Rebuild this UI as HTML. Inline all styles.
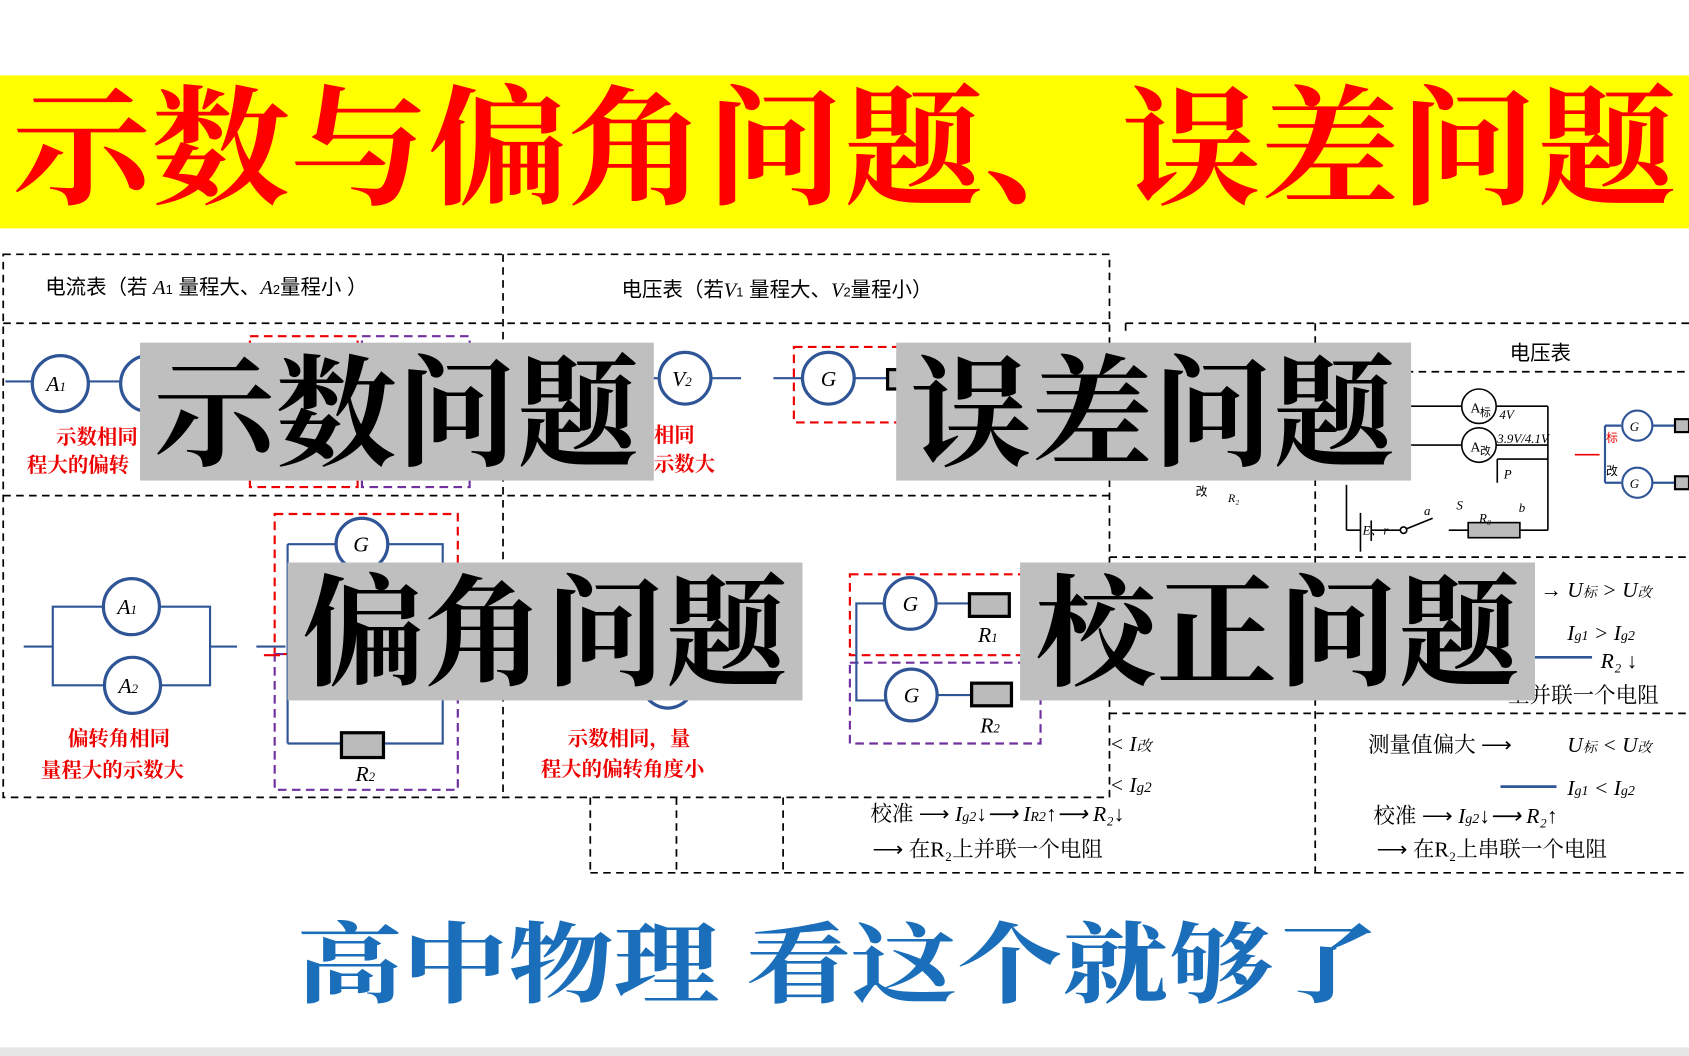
<!DOCTYPE html>
<html><head><meta charset="utf-8"><style>
html,body{margin:0;padding:0;background:#fff;width:1689px;height:1056px;overflow:hidden}
svg{display:block}
text{font-family:"Liberation Serif","Noto Serif CJK SC",serif}
.cj{font-family:"Liberation Sans","Noto Sans CJK SC",sans-serif}
.big{font-family:"Liberation Serif","Noto Serif CJK SC",serif;font-weight:700}
</style></head><body>
<svg width="1689" height="1056" viewBox="0 0 1568 980" preserveAspectRatio="none" xmlns="http://www.w3.org/2000/svg">
<rect width="1568" height="980" fill="#fff"/>
<rect x="0" y="70" width="1568" height="142" fill="#ffff00"/>
<text x="784" y="180" text-anchor="middle" class="big" font-size="120" fill="#ff0000" textLength="1545" lengthAdjust="spacingAndGlyphs">示数与偏角问题、误差问题</text>

<!-- right background table -->
<g stroke="#000" stroke-width="1.6" stroke-dasharray="7,5" fill="none">
<line x1="1045" y1="300" x2="1568" y2="300"/>
<line x1="1221" y1="345" x2="1568" y2="345"/>
<line x1="1221" y1="300" x2="1221" y2="810"/>
<line x1="1030" y1="517" x2="1568" y2="517"/>
<line x1="1030" y1="662" x2="1568" y2="662"/>
<line x1="548" y1="810" x2="1568" y2="810"/>
<line x1="548" y1="740" x2="548" y2="810"/>
<line x1="628" y1="740" x2="628" y2="810"/>
<line x1="727" y1="740" x2="727" y2="810"/>
<line x1="1045" y1="300" x2="1045" y2="310"/>
</g>
<text x="1430" y="334" text-anchor="middle" class="cj" font-size="19" fill="#000">电压表</text>
<g stroke="#000" stroke-width="1.5" fill="none">
<line x1="1310" y1="377" x2="1358" y2="377"/><circle cx="1373" cy="377" r="16" fill="#fff"/>
<line x1="1389" y1="377" x2="1437" y2="377"/>
<line x1="1310" y1="413" x2="1358" y2="413"/><circle cx="1373" cy="413" r="16" fill="#fff"/>
<line x1="1389" y1="413" x2="1437" y2="413"/>
<line x1="1437" y1="377" x2="1437" y2="492"/>
<line x1="1437" y1="426" x2="1390" y2="426"/><line x1="1390" y1="426" x2="1390" y2="448"/>
<line x1="1250" y1="450" x2="1250" y2="492"/><line x1="1250" y1="492" x2="1263" y2="492"/>
<line x1="1263" y1="476" x2="1263" y2="512"/><line x1="1273" y1="483" x2="1273" y2="502"/>
<line x1="1273" y1="492" x2="1300" y2="492"/><circle cx="1303" cy="492" r="3"/>
<line x1="1305" y1="491" x2="1330" y2="481"/>
<line x1="1345" y1="492" x2="1363" y2="492"/>
<rect x="1363" y="485" width="48" height="14" fill="#bbb"/>
<line x1="1411" y1="492" x2="1437" y2="492"/>
</g>
<text x="1365" y="383" font-size="13">A</text><text x="1374" y="386" class="cj" font-size="10">标</text>
<text x="1365" y="419" font-size="13">A</text><text x="1374" y="422" class="cj" font-size="10">改</text>
<text x="1392" y="389" font-size="12" font-style="italic">4V</text>
<text x="1390" y="411" font-size="12" font-style="italic">3.9V/4.1V</text>
<text x="1396" y="444" font-size="12" font-style="italic">P</text>
<text x="1352" y="473" font-size="12" font-style="italic">S</text>
<text x="1322" y="478" font-size="12" font-style="italic">a</text>
<text x="1410" y="475" font-size="12" font-style="italic">b</text>
<text x="1373" y="485" font-size="12" font-style="italic">R₀</text>
<text x="1265" y="496" font-size="12" font-style="italic">E、r</text>
<text x="1110" y="460" class="cj" font-size="11">改</text>
<text x="1140" y="466" font-size="11" font-style="italic">R₂</text>
<g stroke="#2f5597" stroke-width="2" fill="#fff">
<line x1="1490" y1="395" x2="1490" y2="448"/><line x1="1490" y1="395" x2="1505" y2="395"/><line x1="1490" y1="448" x2="1505" y2="448"/>
<circle cx="1520" cy="395" r="14"/><circle cx="1520" cy="448" r="14"/>
<line x1="1534" y1="395" x2="1555" y2="395"/><line x1="1534" y1="448" x2="1555" y2="448"/>
</g>
<rect x="1555" y="389" width="13" height="12" fill="#bbb" stroke="#000" stroke-width="2"/>
<rect x="1555" y="442" width="13" height="12" fill="#bbb" stroke="#000" stroke-width="2"/>
<line x1="1462" y1="422" x2="1485" y2="422" stroke="#e00" stroke-width="1.5"/>
<text x="1513" y="400" font-size="12" font-style="italic">G</text><text x="1513" y="453" font-size="12" font-style="italic">G</text>
<text x="1491" y="410" class="cj" font-size="11" fill="#e00">标</text><text x="1491" y="441" class="cj" font-size="11">改</text>

<g font-size="20" class="cj">
<text x="1430" y="554" font-style="italic">→ U<tspan font-size="13">标</tspan> &gt; U<tspan font-size="13">改</tspan></text>
<text x="1455" y="594" font-style="italic">I<tspan font-size="13">g1</tspan> &gt; I<tspan font-size="13">g2</tspan></text>
<text x="1486" y="620" font-style="italic">R₂ ↓</text>
<text x="1400" y="652">上并联一个电阻</text>
<text x="1270" y="698">测量值偏大 ⟶</text>
<text x="1455" y="698" font-style="italic">U<tspan font-size="13">标</tspan> &lt; U<tspan font-size="13">改</tspan></text>
<text x="1455" y="738" font-style="italic">I<tspan font-size="13">g1</tspan> &lt; I<tspan font-size="13">g2</tspan></text>
<text x="1275" y="764">校准 ⟶ <tspan font-style="italic">I<tspan font-size="13">g2</tspan>↓⟶ R₂↑</tspan></text>
<text x="1278" y="795">⟶ 在R₂上串联一个电阻</text>
<text x="808" y="762">校准 ⟶ <tspan font-style="italic">I<tspan font-size="13">g2</tspan>↓⟶ I<tspan font-size="13">R2</tspan>↑⟶ R₂↓</tspan></text>
<text x="810" y="795">⟶ 在R₂上并联一个电阻</text>
<text x="1030" y="697" font-style="italic">&lt; I<tspan font-size="14">改</tspan></text>
<text x="1030" y="735" font-style="italic">&lt; I<tspan font-size="14">g2</tspan></text>
</g>
<g stroke="#2f5597" stroke-width="2.5">
<line x1="1393" y1="730" x2="1445" y2="730"/><line x1="1425" y1="610" x2="1478" y2="610"/>
<line x1="1390" y1="587" x2="1418" y2="587"/>
</g>

<!-- left main table -->
<rect x="3" y="236" width="1027" height="504" fill="#fff"/>
<g stroke="#000" stroke-width="1.6" stroke-dasharray="7,5" fill="none">
<rect x="3" y="236" width="1027" height="504"/>
<line x1="3" y1="300" x2="1030" y2="300"/>
<line x1="3" y1="460" x2="1030" y2="460"/>
<line x1="467" y1="236" x2="467" y2="740"/>
</g>
<text x="42" y="273" class="cj" font-size="19">电流表（若 <tspan font-style="italic" font-family="Liberation Serif">A</tspan><tspan font-size="12">1</tspan> 量程大、<tspan font-style="italic" font-family="Liberation Serif">A</tspan><tspan font-size="12">2</tspan>量程小 ）</text>
<text x="577" y="275" class="cj" font-size="19">电压表（若<tspan font-style="italic" font-family="Liberation Serif">V</tspan><tspan font-size="12">1</tspan> 量程大、<tspan font-style="italic" font-family="Liberation Serif">V</tspan><tspan font-size="12">2</tspan>量程小）</text>

<g stroke-width="2" stroke-dasharray="8,5" fill="none">
<rect x="232" y="312" width="100" height="140" stroke="#e00"/>
<rect x="336" y="312" width="100" height="140" stroke="#7030a0"/>
<rect x="737" y="322" width="100" height="70" stroke="#e00"/>
<rect x="255" y="477" width="170" height="130" stroke="#e00"/>
<rect x="255" y="607" width="170" height="126" stroke="#7030a0"/>
<rect x="789" y="533" width="180" height="75" stroke="#e00"/>
<rect x="789" y="615" width="177" height="75" stroke="#7030a0"/>
</g>
<g stroke="#2f5597" stroke-width="2" fill="none">
<line x1="5" y1="354" x2="30" y2="354"/>
<line x1="82" y1="354" x2="112" y2="354"/>
<line x1="600" y1="351" x2="612" y2="351"/>
<line x1="660" y1="351" x2="688" y2="351"/><line x1="718" y1="351" x2="746" y2="351"/>
<line x1="793" y1="351" x2="828" y2="351"/>
<line x1="22" y1="600" x2="49" y2="600"/>
<polyline points="49,600 49,563 96,563"/><polyline points="49,600 49,636 97,636"/>
<polyline points="148,563 195,563 195,636 149,636"/>
<line x1="195" y1="600" x2="220" y2="600"/><line x1="238" y1="600" x2="265" y2="600"/>
<polyline points="267,505 313,505"/><polyline points="359,505 411,505 411,690 356,690"/>
<line x1="267" y1="505" x2="267" y2="690"/><line x1="267" y1="690" x2="317" y2="690"/>
<polyline points="822,560 795,560 795,650 822,650"/>
<line x1="869" y1="560" x2="900" y2="560"/><line x1="869" y1="645" x2="903" y2="645"/>
</g>
<line x1="245" y1="608" x2="260" y2="608" stroke="#e00" stroke-width="2"/>
<g stroke="#2f5597" stroke-width="3" fill="#fff">
<circle cx="56" cy="356" r="26"/><circle cx="138" cy="356" r="26"/>
<circle cx="636" cy="351" r="24"/><circle cx="769" cy="351" r="24"/>
<circle cx="122" cy="563" r="26"/><circle cx="123" cy="636" r="26"/>
<circle cx="336" cy="505" r="24"/>
<circle cx="845" cy="560" r="24"/><circle cx="846" cy="645" r="24"/>
<path d="M597,640 a24,24 0 0 0 46,0" fill="none"/>
</g>
<rect x="317" y="680" width="39" height="23" fill="#bbb" stroke="#000" stroke-width="3"/>
<rect x="900" y="551" width="37" height="21" fill="#bbb" stroke="#000" stroke-width="3"/>
<rect x="902" y="634" width="37" height="21" fill="#bbb" stroke="#000" stroke-width="3"/>
<rect x="824" y="343" width="10" height="18" fill="#bbb" stroke="#000" stroke-width="3"/>
<g font-style="italic" font-size="20">
<text x="43" y="363">A<tspan font-size="12">1</tspan></text>
<text x="109" y="570">A<tspan font-size="12">1</tspan></text>
<text x="110" y="643">A<tspan font-size="12">2</tspan></text>
<text x="624" y="358">V<tspan font-size="12">2</tspan></text>
<text x="762" y="358">G</text><text x="328" y="512">G</text>
<text x="838" y="567">G</text><text x="839" y="652">G</text>
<text x="908" y="596">R<tspan font-size="12">1</tspan></text>
<text x="910" y="680">R<tspan font-size="12">2</tspan></text>
<text x="330" y="725">R<tspan font-size="12">2</tspan></text>
</g>
<g class="cj" font-size="19" fill="#e00" font-weight="bold">
<text x="52" y="412">示数相同</text><text x="25" y="438">程大的偏转</text>
<text x="607" y="410">相同</text><text x="607" y="437">示数大</text>
<text x="63" y="692">偏转角相同</text><text x="38" y="721">量程大的示数大</text>
<text x="527" y="692">示数相同，量</text><text x="502" y="720">程大的偏转角度小</text>
</g>

<g fill="#bfbfbf">
<rect x="130" y="318" width="477" height="128"/>
<rect x="832" y="318" width="478" height="128"/>
<rect x="267" y="522" width="478" height="128"/>
<rect x="947" y="522" width="478" height="128"/>
</g>
<g class="big" font-size="112" fill="#000" text-anchor="middle">
<text x="368" y="423" textLength="450" lengthAdjust="spacingAndGlyphs">示数问题</text>
<text x="1070" y="423" textLength="450" lengthAdjust="spacingAndGlyphs">误差问题</text>
<text x="506" y="627" textLength="450" lengthAdjust="spacingAndGlyphs">偏角问题</text>
<text x="1186" y="627" textLength="450" lengthAdjust="spacingAndGlyphs">校正问题</text>
</g>

<text x="778" y="924" text-anchor="middle" class="big" font-size="82" fill="#1b6fba" textLength="1005" lengthAdjust="spacingAndGlyphs">高中物理 看这个就够了</text>
<rect x="0" y="972" width="1568" height="8" fill="#e6e6e6"/>
</svg>
</body></html>
